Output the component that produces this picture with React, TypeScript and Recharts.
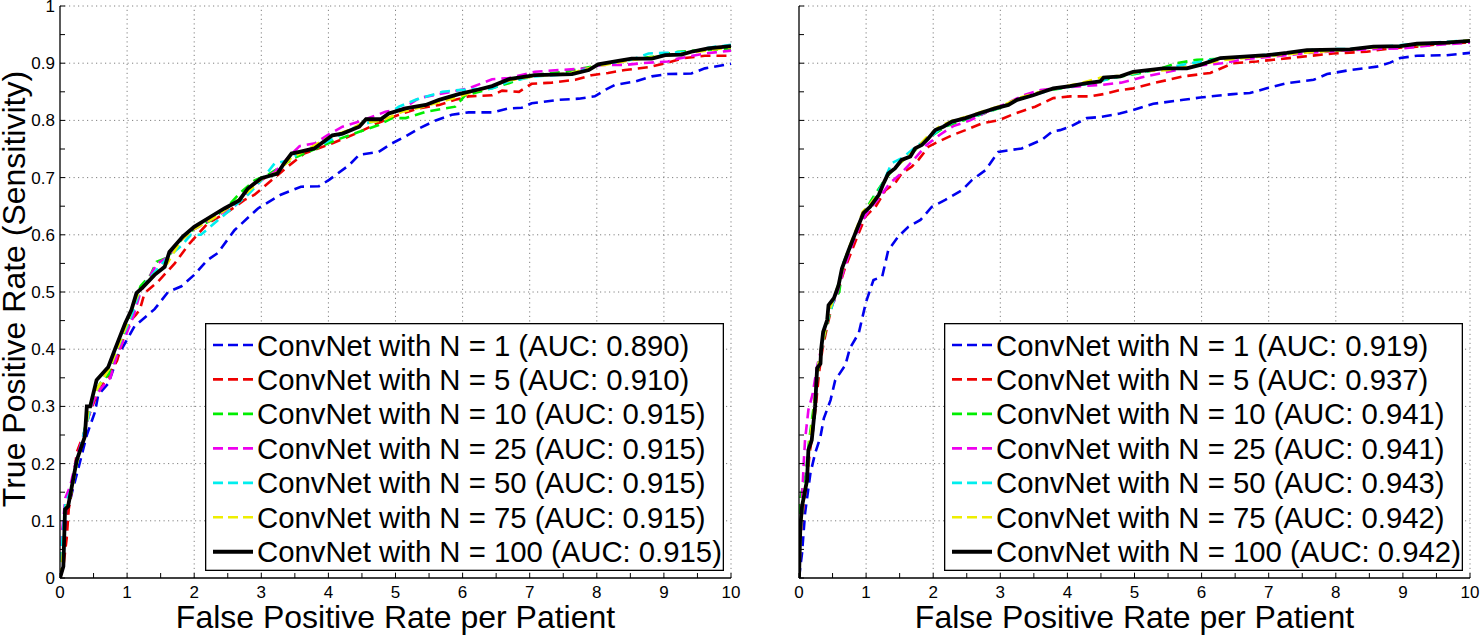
import React from "react";
import { LineChart, Line, XAxis, YAxis, ReferenceLine, Legend, Label } from "recharts";

type Pt = [number, number];

// [false positive rate per patient, true positive rate]
const LEFT_N1: Pt[] = [[0,0],[0.05,0.03],[0.1,0.11],[0.18,0.15],[0.27,0.19],[0.4,0.25],[0.52,0.29],[0.57,0.32],[0.72,0.34],[0.87,0.39],[1.11,0.44],[1.41,0.47],[1.61,0.5],[1.81,0.51],[2.0,0.53],[2.2,0.556],[2.35,0.568],[2.6,0.608],[2.95,0.646],[3.29,0.67],[3.59,0.684],[3.86,0.685],[4.01,0.696],[4.31,0.722],[4.46,0.74],[4.75,0.745],[4.95,0.76],[5.15,0.772],[5.35,0.786],[5.6,0.8],[5.84,0.81],[6.09,0.814],[6.44,0.814],[6.69,0.821],[6.88,0.822],[7.03,0.83],[7.43,0.836],[7.73,0.838],[7.97,0.842],[8.12,0.853],[8.27,0.862],[8.57,0.868],[8.82,0.877],[9.06,0.881],[9.41,0.882],[9.61,0.891],[10,0.899]];
const LEFT_N5: Pt[] = [[0,0],[0.05,0.02],[0.1,0.07],[0.13,0.12],[0.2,0.17],[0.25,0.22],[0.35,0.25],[0.42,0.28],[0.48,0.3],[0.55,0.32],[0.7,0.35],[0.85,0.38],[0.95,0.42],[1.05,0.45],[1.13,0.46],[1.19,0.469],[1.26,0.498],[1.46,0.518],[1.71,0.55],[1.91,0.582],[2.2,0.62],[2.5,0.64],[2.75,0.661],[2.9,0.67],[3.1,0.69],[3.39,0.719],[3.64,0.742],[4.06,0.76],[4.41,0.777],[4.75,0.796],[5.05,0.81],[5.35,0.821],[5.65,0.827],[5.89,0.836],[6.09,0.842],[6.44,0.844],[6.59,0.852],[6.84,0.85],[7.03,0.864],[7.33,0.866],[7.68,0.871],[7.92,0.879],[8.17,0.883],[8.42,0.888],[8.77,0.893],[9.02,0.9],[9.31,0.909],[9.61,0.913],[10,0.913]];
const LEFT_N10: Pt[] = [[0,0],[0.03,0.04],[0.08,0.12],[0.15,0.14],[0.25,0.2],[0.35,0.25],[0.42,0.29],[0.5,0.32],[0.6,0.34],[0.75,0.36],[0.85,0.4],[1.0,0.44],[1.1,0.48],[1.2,0.51],[1.35,0.53],[1.44,0.553],[1.6,0.56],[1.8,0.59],[2.0,0.61],[2.25,0.625],[2.5,0.65],[2.7,0.675],[2.9,0.695],[3.1,0.705],[3.3,0.72],[3.5,0.735],[3.8,0.75],[4.1,0.765],[4.46,0.78],[4.75,0.792],[4.95,0.804],[5.15,0.804],[5.45,0.815],[5.89,0.824],[6.04,0.844],[6.34,0.853],[6.69,0.865],[6.93,0.875],[7.18,0.881],[7.53,0.885],[7.92,0.894],[8.32,0.903],[8.82,0.911],[9.21,0.92],[9.61,0.923],[10,0.925]];
const LEFT_N25: Pt[] = [[0,0],[0.03,0.08],[0.08,0.14],[0.15,0.16],[0.25,0.21],[0.35,0.25],[0.42,0.28],[0.5,0.31],[0.6,0.33],[0.75,0.35],[0.85,0.39],[1.0,0.43],[1.1,0.46],[1.2,0.5],[1.35,0.53],[1.45,0.55],[1.6,0.56],[1.8,0.59],[2.0,0.61],[2.3,0.63],[2.6,0.65],[2.8,0.675],[3.0,0.695],[3.2,0.71],[3.4,0.735],[3.57,0.755],[3.8,0.76],[4.0,0.775],[4.21,0.789],[4.46,0.798],[4.85,0.815],[5.1,0.82],[5.35,0.839],[5.7,0.847],[6.09,0.856],[6.44,0.872],[6.69,0.874],[7.08,0.885],[7.43,0.888],[7.88,0.891],[8.07,0.897],[8.42,0.897],[8.67,0.9],[9.06,0.903],[9.21,0.908],[9.61,0.917],[10,0.922]];
const LEFT_N50: Pt[] = [[0,0],[0.03,0.06],[0.08,0.13],[0.15,0.15],[0.25,0.2],[0.35,0.25],[0.42,0.28],[0.5,0.32],[0.6,0.34],[0.75,0.37],[0.85,0.4],[1.0,0.44],[1.1,0.47],[1.18,0.5],[1.3,0.52],[1.45,0.54],[1.6,0.56],[1.8,0.58],[1.95,0.6],[2.1,0.6],[2.3,0.62],[2.55,0.645],[2.8,0.67],[3.0,0.695],[3.2,0.725],[3.4,0.73],[3.6,0.745],[3.85,0.755],[4.1,0.77],[4.46,0.792],[4.75,0.8],[5.05,0.824],[5.3,0.836],[5.7,0.85],[5.94,0.853],[6.44,0.856],[6.69,0.868],[7.08,0.877],[7.63,0.881],[8.02,0.897],[8.52,0.906],[8.77,0.917],[9.02,0.918],[9.41,0.92],[9.71,0.928],[10,0.932]];
const LEFT_N75: Pt[] = [[0,0],[0.05,0.05],[0.08,0.12],[0.15,0.14],[0.25,0.2],[0.37,0.25],[0.42,0.29],[0.5,0.32],[0.6,0.34],[0.75,0.37],[0.85,0.4],[1.0,0.445],[1.1,0.48],[1.2,0.505],[1.4,0.53],[1.6,0.55],[1.8,0.59],[2.0,0.61],[2.3,0.63],[2.6,0.655],[2.8,0.675],[3.0,0.697],[3.25,0.71],[3.45,0.735],[3.7,0.75],[4.0,0.77],[4.3,0.783],[4.5,0.795],[4.8,0.8],[5.1,0.815],[5.45,0.825],[5.9,0.84],[6.3,0.855],[6.7,0.87],[7.1,0.878],[7.6,0.882],[8.0,0.895],[8.5,0.905],[9.0,0.913],[9.5,0.92],[10,0.928]];
const LEFT_N100: Pt[] = [[0,0],[0.05,0.02],[0.075,0.12],[0.12,0.125],[0.25,0.206],[0.37,0.247],[0.4,0.3],[0.45,0.3],[0.545,0.346],[0.72,0.369],[0.82,0.4],[0.97,0.445],[1.065,0.469],[1.14,0.498],[1.24,0.509],[1.41,0.53],[1.56,0.544],[1.63,0.57],[1.83,0.597],[2.0,0.614],[2.25,0.632],[2.45,0.646],[2.67,0.66],[2.8,0.681],[3.0,0.699],[3.24,0.707],[3.34,0.725],[3.45,0.742],[3.57,0.745],[3.79,0.751],[4.06,0.774],[4.21,0.777],[4.46,0.789],[4.56,0.802],[4.78,0.802],[4.9,0.812],[5.15,0.821],[5.45,0.827],[5.65,0.836],[5.94,0.846],[6.24,0.854],[6.44,0.86],[6.69,0.872],[7.08,0.879],[7.63,0.881],[7.88,0.888],[8.02,0.898],[8.32,0.904],[8.52,0.908],[8.82,0.908],[9.02,0.914],[9.26,0.915],[9.41,0.92],[9.66,0.926],[10,0.93]];

const RIGHT_N1: Pt[] = [[0,0],[0.045,0.043],[0.09,0.113],[0.17,0.183],[0.24,0.218],[0.32,0.247],[0.37,0.279],[0.47,0.311],[0.54,0.346],[0.69,0.372],[0.76,0.402],[0.89,0.428],[1.0,0.483],[1.11,0.521],[1.24,0.527],[1.33,0.573],[1.48,0.597],[1.63,0.614],[1.81,0.626],[1.98,0.649],[2.18,0.661],[2.43,0.678],[2.58,0.696],[2.78,0.713],[2.97,0.745],[3.32,0.751],[3.62,0.766],[3.77,0.78],[3.89,0.783],[4.04,0.789],[4.29,0.804],[4.49,0.806],[4.78,0.812],[4.98,0.818],[5.28,0.829],[5.73,0.836],[5.98,0.84],[6.47,0.846],[6.72,0.848],[6.97,0.856],[7.27,0.865],[7.67,0.871],[7.87,0.881],[8.21,0.888],[8.61,0.894],[8.81,0.901],[8.96,0.909],[9.21,0.913],[9.65,0.914],[10,0.918]];
const RIGHT_N5: Pt[] = [[0,0],[0.03,0.08],[0.07,0.13],[0.12,0.17],[0.16,0.22],[0.2,0.25],[0.25,0.3],[0.3,0.36],[0.35,0.4],[0.42,0.44],[0.5,0.48],[0.6,0.51],[0.68,0.54],[0.78,0.57],[0.88,0.6],[0.99,0.632],[1.14,0.649],[1.29,0.678],[1.43,0.69],[1.53,0.707],[1.68,0.719],[1.78,0.731],[1.93,0.754],[2.08,0.763],[2.28,0.774],[2.48,0.783],[2.73,0.795],[2.97,0.8],[3.22,0.812],[3.52,0.824],[3.79,0.839],[4.04,0.842],[4.34,0.842],[4.54,0.846],[4.78,0.853],[4.98,0.856],[5.28,0.865],[5.73,0.877],[6.13,0.883],[6.47,0.9],[6.82,0.903],[7.07,0.906],[7.47,0.911],[7.96,0.917],[8.46,0.92],[8.81,0.926],[9.21,0.929],[9.65,0.935],[10,0.936]];
const RIGHT_N10: Pt[] = [[0,0],[0.02,0.14],[0.1,0.18],[0.15,0.24],[0.22,0.3],[0.28,0.36],[0.35,0.41],[0.43,0.45],[0.5,0.48],[0.6,0.5],[0.66,0.55],[0.76,0.58],[0.86,0.61],[0.97,0.64],[1.14,0.672],[1.3,0.7],[1.45,0.72],[1.6,0.735],[1.8,0.755],[2.0,0.775],[2.2,0.79],[2.45,0.8],[2.7,0.81],[3.0,0.822],[3.3,0.838],[3.6,0.85],[3.9,0.856],[4.2,0.862],[4.5,0.87],[4.8,0.877],[5.1,0.883],[5.4,0.891],[5.63,0.9],[5.93,0.906],[6.3,0.908],[6.7,0.91],[7.1,0.914],[7.5,0.92],[8.0,0.923],[8.5,0.927],[9.0,0.93],[9.5,0.934],[10,0.938]];
const RIGHT_N25: Pt[] = [[0,0],[0.03,0.1],[0.07,0.2],[0.09,0.241],[0.14,0.294],[0.2,0.32],[0.27,0.37],[0.33,0.4],[0.4,0.44],[0.46,0.47],[0.55,0.49],[0.62,0.52],[0.7,0.55],[0.8,0.585],[0.92,0.62],[1.05,0.645],[1.2,0.665],[1.35,0.69],[1.5,0.705],[1.7,0.73],[1.9,0.757],[2.1,0.775],[2.3,0.79],[2.55,0.8],[2.8,0.815],[3.1,0.83],[3.37,0.845],[3.6,0.853],[3.9,0.857],[4.2,0.86],[4.5,0.862],[4.8,0.866],[5.1,0.875],[5.5,0.885],[5.9,0.895],[6.3,0.9],[6.7,0.908],[7.1,0.912],[7.6,0.918],[8.1,0.922],[8.6,0.925],[9.0,0.926],[9.5,0.932],[10,0.936]];
const RIGHT_N50: Pt[] = [[0,0],[0.03,0.09],[0.06,0.13],[0.12,0.18],[0.15,0.23],[0.2,0.25],[0.24,0.3],[0.28,0.37],[0.34,0.4],[0.38,0.43],[0.45,0.46],[0.53,0.49],[0.6,0.52],[0.66,0.55],[0.76,0.58],[0.86,0.61],[0.97,0.64],[1.1,0.66],[1.25,0.69],[1.38,0.725],[1.55,0.735],[1.75,0.755],[1.95,0.77],[2.1,0.785],[2.3,0.797],[2.55,0.805],[2.8,0.815],[3.05,0.825],[3.3,0.838],[3.55,0.846],[3.8,0.855],[4.1,0.86],[4.4,0.866],[4.7,0.875],[5.0,0.882],[5.4,0.89],[5.8,0.899],[6.1,0.905],[6.5,0.91],[6.9,0.914],[7.3,0.918],[7.7,0.924],[8.2,0.925],[8.7,0.929],[9.2,0.934],[9.6,0.937],[10,0.94]];
const RIGHT_N75: Pt[] = [[0,0],[0.03,0.1],[0.06,0.14],[0.13,0.18],[0.16,0.24],[0.22,0.29],[0.27,0.36],[0.33,0.4],[0.4,0.44],[0.46,0.47],[0.55,0.5],[0.63,0.53],[0.72,0.57],[0.82,0.6],[0.95,0.64],[1.07,0.655],[1.2,0.675],[1.32,0.705],[1.5,0.725],[1.7,0.745],[1.9,0.77],[2.1,0.79],[2.3,0.8],[2.55,0.808],[2.8,0.818],[3.05,0.827],[3.3,0.84],[3.6,0.85],[3.9,0.858],[4.2,0.865],[4.5,0.875],[4.8,0.878],[5.1,0.886],[5.5,0.888],[5.9,0.896],[6.3,0.905],[6.7,0.91],[7.1,0.914],[7.5,0.918],[8.0,0.922],[8.5,0.927],[9.0,0.93],[9.5,0.935],[10,0.94]];
const RIGHT_N100: Pt[] = [[0,0],[0.02,0.09],[0.045,0.125],[0.12,0.171],[0.14,0.224],[0.19,0.241],[0.24,0.3],[0.27,0.367],[0.32,0.375],[0.33,0.4],[0.36,0.43],[0.42,0.451],[0.44,0.477],[0.52,0.489],[0.59,0.512],[0.64,0.541],[0.74,0.573],[0.84,0.603],[0.96,0.638],[1.06,0.649],[1.19,0.67],[1.26,0.69],[1.33,0.707],[1.43,0.716],[1.53,0.731],[1.66,0.737],[1.73,0.751],[1.83,0.757],[1.93,0.769],[2.03,0.783],[2.15,0.789],[2.28,0.798],[2.48,0.804],[2.68,0.812],[2.92,0.821],[3.12,0.827],[3.25,0.836],[3.49,0.844],[3.64,0.85],[3.79,0.856],[4.04,0.86],[4.29,0.865],[4.49,0.868],[4.54,0.875],[4.79,0.877],[4.98,0.885],[5.43,0.891],[5.78,0.891],[5.98,0.897],[6.28,0.909],[6.57,0.911],[6.97,0.914],[7.27,0.918],[7.57,0.923],[8.21,0.924],[8.56,0.929],[8.96,0.93],[9.21,0.934],[9.65,0.936],[10,0.939]];

const N_VALUES = [1, 5, 10, 25, 50, 75, 100];
const LINE_COLORS = ["#0000ee", "#ee0000", "#00ee00", "#ee00ee", "#00eeee", "#eeee00", "#000000"];
const LEFT_AUC = ["0.890", "0.910", "0.915", "0.915", "0.915", "0.915", "0.915"];
const RIGHT_AUC = ["0.919", "0.937", "0.941", "0.941", "0.943", "0.942", "0.942"];

const X_TICKS = [0, 0.5, 1, 1.5, 2, 2.5, 3, 3.5, 4, 4.5, 5, 5.5, 6, 6.5, 7, 7.5, 8, 8.5, 9, 9.5, 10];
const Y_TICKS = [0, 0.05, 0.1, 0.15, 0.2, 0.25, 0.3, 0.35, 0.4, 0.45, 0.5, 0.55, 0.6, 0.65, 0.7, 0.75, 0.8, 0.85, 0.9, 0.95, 1];
const X_GRID = [1, 2, 3, 4, 5, 6, 7, 8, 9, 10];
const Y_GRID = [0.1, 0.2, 0.3, 0.4, 0.5, 0.6, 0.7, 0.8, 0.9, 1];

const X_TITLE = "False Positive Rate per Patient";
const Y_TITLE = "True Positive Rate (Sensitivity)";

const FONT = '"Liberation Sans", Arial, Helvetica, sans-serif';
const CHART_W = 741;
const CHART_H = 636;

const toRows = (pts: Pt[]) => pts.map(([fpr, tpr]) => ({ fpr, tpr }));

function XTick(props: any) {
  const { x, y, payload } = props;
  const v = payload.value;
  const major = Number.isInteger(v);
  return (
    <g>
      <line x1={x} x2={x} y1={y} y2={y - 5} stroke="#000" strokeWidth={1} />
      {major && (
        <text x={x} y={y + 19.5} textAnchor="middle" fontSize={17} fontFamily={FONT} fill="#000">
          {v}
        </text>
      )}
    </g>
  );
}

function makeYTick(showLabels: boolean) {
  return (props: any) => {
    const { x, y, payload } = props;
    const v = payload.value;
    const major = Math.abs(v * 10 - Math.round(v * 10)) < 1e-6;
    const txt = v === 0 ? "0" : v === 1 ? "1" : v.toFixed(1);
    return (
      <g>
        <line x1={x} x2={x + 5} y1={y} y2={y} stroke="#000" strokeWidth={1} />
        {showLabels && major && (
          <text x={x - 5} y={y + 6} textAnchor="end" fontSize={17} fontFamily={FONT} fill="#000">
            {txt}
          </text>
        )}
      </g>
    );
  };
}

function LegendBox({ aucs }: { aucs: string[] }) {
  const w = 519;
  const h = 248;
  return (
    <svg width={w} height={h} style={{ display: "block" }}>
      <rect x={0.65} y={0.65} width={w - 1.3} height={h - 1.3} fill="#fff" stroke="#000" strokeWidth={1.3} />
      {N_VALUES.map((n, i) => {
        const cy = 22 + i * 34.45;
        const solid = i === N_VALUES.length - 1;
        return (
          <g key={n}>
            <line
              x1={8}
              x2={48}
              y1={cy}
              y2={cy}
              stroke={LINE_COLORS[i]}
              strokeWidth={solid ? 4 : 2.7}
              strokeDasharray={solid ? undefined : "10 5"}
            />
            <text x={52} y={cy + 10.5} fontSize={29.3} fontFamily={FONT} fill="#000">
              {`ConvNet with N = ${n} (AUC: ${aucs[i]})`}
            </text>
          </g>
        );
      })}
    </svg>
  );
}

function RocPanel(props: {
  curves: Pt[][];
  aucs: string[];
  left: number;
  axisWidth: number;
  rightMargin: number;
  legendLeft: number;
  showYLabels: boolean;
}) {
  const { curves, aucs, left, axisWidth, rightMargin, legendLeft, showYLabels } = props;
  return (
    <div style={{ position: "absolute", left, top: 0 }}>
      <LineChart width={CHART_W} height={CHART_H} margin={{ top: 6, right: rightMargin, bottom: 0, left: 0 }}>
        <XAxis
          dataKey="fpr"
          type="number"
          domain={[0, 10]}
          ticks={X_TICKS}
          interval={0}
          allowDataOverflow
          height={58}
          tickSize={0}
          tickMargin={0}
          tickLine={false}
          axisLine={{ stroke: "#000", strokeWidth: 1.3 }}
          tick={(p: any) => <XTick {...p} />}
        >
          <Label
            content={(p: any) => {
              const vb = p.viewBox;
              return (
                <text x={vb.x + vb.width / 2} y={vb.y + 50} textAnchor="middle" fontSize={32} fontFamily={FONT} fill="#000">
                  {X_TITLE}
                </text>
              );
            }}
          />
        </XAxis>
        <YAxis
          dataKey="tpr"
          type="number"
          domain={[0, 1]}
          ticks={Y_TICKS}
          interval={0}
          allowDataOverflow
          width={axisWidth}
          tickSize={0}
          tickMargin={0}
          tickLine={false}
          axisLine={{ stroke: "#000", strokeWidth: 1.3 }}
          tick={makeYTick(showYLabels)}
        >
          {showYLabels && (
            <Label
              content={(p: any) => {
                const vb = p.viewBox;
                const cx = vb.x + 25;
                const cy = vb.y + vb.height / 2 - 3;
                return (
                  <text
                    x={cx}
                    y={cy}
                    transform={`rotate(-90, ${cx}, ${cy})`}
                    textAnchor="middle"
                    fontSize={32}
                    fontFamily={FONT}
                    fill="#000"
                  >
                    {Y_TITLE}
                  </text>
                );
              }}
            />
          )}
        </YAxis>
        {X_GRID.map((v) => (
          <ReferenceLine key={`gx${v}`} x={v} stroke="#808080" strokeWidth={1} strokeDasharray="1.2 3.3" />
        ))}
        {Y_GRID.map((v) => (
          <ReferenceLine key={`gy${v}`} y={v} stroke="#808080" strokeWidth={1} strokeDasharray="1.2 3.3" />
        ))}
        {curves.map((pts, i) => {
          const solid = i === curves.length - 1;
          return (
            <Line
              key={N_VALUES[i]}
              data={toRows(pts)}
              dataKey="tpr"
              name={`N = ${N_VALUES[i]}`}
              type="linear"
              stroke={LINE_COLORS[i]}
              strokeWidth={solid ? 3.8 : 2.6}
              strokeDasharray={solid ? undefined : "10 6"}
              dot={false}
              activeDot={false}
              isAnimationActive={false}
            />
          );
        })}
        <Legend
          layout="vertical"
          align="center"
          verticalAlign="middle"
          wrapperStyle={{ left: legendLeft, top: 323, width: 519, height: 248 }}
          content={() => <LegendBox aucs={aucs} />}
        />
      </LineChart>
    </div>
  );
}

export default function App() {
  return (
    <div style={{ position: "absolute", left: 0, top: 0, width: 1482, height: 636, background: "#fff" }}>
      <RocPanel
        curves={[LEFT_N1, LEFT_N5, LEFT_N10, LEFT_N25, LEFT_N50, LEFT_N75, LEFT_N100]}
        aucs={LEFT_AUC}
        left={0}
        axisWidth={60}
        rightMargin={10}
        legendLeft={205}
        showYLabels
      />
      <RocPanel
        curves={[RIGHT_N1, RIGHT_N5, RIGHT_N10, RIGHT_N25, RIGHT_N50, RIGHT_N75, RIGHT_N100]}
        aucs={RIGHT_AUC}
        left={741}
        axisWidth={58}
        rightMargin={12}
        legendLeft={203}
        showYLabels={false}
      />
    </div>
  );
}
